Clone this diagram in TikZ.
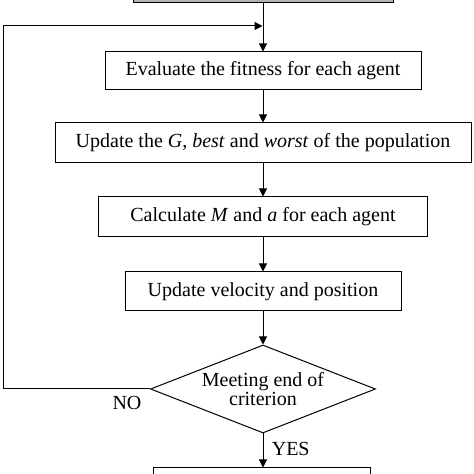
\documentclass[tikz,border=0pt]{standalone}
\usepackage{fontspec}
\setmainfont{Liberation Serif}
\usetikzlibrary{arrows.meta}
\usetikzlibrary{shapes.geometric}

\tikzset{
  stepbox/.style={draw, rectangle, line width=1pt, inner sep=0pt, minimum height=39pt},
  testbox/.style={draw, diamond, line width=1pt, inner sep=0pt, aspect=2.56, minimum width=225pt, minimum height=88pt, align=center},
  flow/.style={line width=1pt, -{Triangle[width=8pt,length=8pt]}}
}

\begin{document}
\begin{tikzpicture}[x=1pt, y=1pt, font=\fontsize{20}{19}\selectfont]
          \useasboundingbox (0,0) rectangle (474,474);
          \clip (0,0) rectangle (474,474);

          \node [stepbox, fill=black!30, minimum width=260pt] (init) at (263,491) {}; % Draws a rectangle
          \node [stepbox, minimum width=316pt, minimum height=38pt] (eval) at (263,403) {Evaluate the fitness for each agent}; % Draws a rectangle
          \node [stepbox, minimum width=416pt, minimum height=40pt] (best) at (263,331) {Update the \textit{G}, \textit{best} and \textit{worst} of the population}; % Draws a rectangle
          \node [stepbox, minimum width=329pt, minimum height=40pt] (mass) at (263,257) {Calculate \textit{M} and \textit{a} for each agent}; % Draws a rectangle
          \node [stepbox, minimum width=276pt] (move) at (263,182.5) {Update velocity and position}; % Draws a rectangle
          \node [testbox] (test) at (263,85) {Meeting end of\\criterion}; % Draws a diamond
          \node [stepbox, minimum width=217pt, minimum height=40pt] (stop) at (262,-14) {}; % Draws a rectangle

          \coordinate (join) at (263,448);
          \coordinate (back) at (3,448);

          \draw [line width=1pt] (init) -- (join);
          \draw [flow] (join) -- (eval);
          \draw [flow] (eval) -- (best);
          \draw [flow] (best) -- (mass);
          \draw [flow] (mass) -- (move);
          \draw [flow] (move) -- (test);
          \draw [flow] (test.south) -- (test.south |- stop.north) node [pos=0.45, right=5pt] {YES};

          \draw [flow, shorten >=0.5pt] (test.west) -- (test.west -| back) -- (back) -- (join);
          \node (no) at (127,71) {NO};
        \end{tikzpicture}
\end{document}
